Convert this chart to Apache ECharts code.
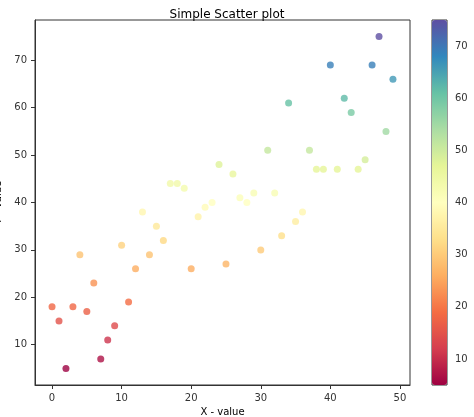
<!DOCTYPE html>
<html><head><meta charset="utf-8">
<script src="https://cdn.jsdelivr.net/npm/echarts@6/dist/echarts.min.js"></script>
<style>html,body{margin:0;padding:0;background:#fff}#c{width:474px;height:417px}</style>
</head><body><div id="c"></div>
<script>
const xValues = [0,1,2,3,4,5,6,7,8,9,10,11,12,13,14,15,16,17,18,19,20,21,22,23,24,25,26,27,28,29,30,31,32,33,34,35,36,37,38,39,40,41,42,43,44,45,46,47,48,49];
const yValues = [18,15,5,18,29,17,23,7,11,14,31,19,26,38,29,35,32,44,44,43,26,37,39,40,48,27,46,41,40,42,30,51,42,33,61,36,38,51,47,47,69,47,62,59,47,49,69,75,55,66];
const xTicks = [0,10,20,30,40,50];
const yTicks = [10,20,30,40,50,60,70];
const spectral = ['#9e0142','#d53e4f','#f46d43','#fdae61','#fee08b','#ffffbf','#e6f598','#abdda4','#66c2a5','#3288bd','#5e4fa2'];
const data = xValues.map((x,i)=>[x,yValues[i]]);
const lbl = {color:'#333',fontSize:10,fontFamily:'DejaVu Sans'};
const chart = echarts.init(document.getElementById('c'));
chart.setOption({
  animation:false,
  title:{text:'Simple Scatter plot',left:222,top:4,textAlign:'center',textStyle:{fontSize:12,fontWeight:'normal',color:'#000',fontFamily:'DejaVu Sans'}},
  grid:[{left:35,right:64,top:20,bottom:32,show:true,borderColor:'#333',borderWidth:1,outerBoundsMode:'none',containLabel:false},
        {left:432,width:15,top:20,bottom:32,show:true,borderColor:'#333',borderWidth:1,outerBoundsMode:'none',containLabel:false}],
  xAxis:[{type:'value',gridIndex:0,min:-2.45,max:51.45,name:'X - value',nameLocation:'middle',nameGap:20,nameTextStyle:{fontSize:10,color:'#000',fontFamily:'DejaVu Sans'},
          axisLine:{show:true,onZero:false,lineStyle:{color:'#333'}},splitLine:{show:false},
          axisLabel:Object.assign({customValues:xTicks},lbl),axisTick:{show:true,length:4,lineStyle:{color:'#333'},customValues:xTicks}},
         {type:'value',gridIndex:1,show:false,min:0,max:1,splitLine:{show:false}}],
  yAxis:[{type:'value',gridIndex:0,min:1.5,max:78.5,name:'Y - value',nameLocation:'middle',nameGap:22,nameTextStyle:{fontSize:10,color:'#000',fontFamily:'DejaVu Sans'},
          axisLine:{show:true,onZero:false,lineStyle:{color:'#333'}},splitLine:{show:false},
          axisLabel:Object.assign({customValues:yTicks},lbl),axisTick:{show:true,length:4,lineStyle:{color:'#333'},customValues:yTicks}},
         {type:'value',gridIndex:1,position:'right',min:5,max:75,
          axisLine:{show:false},splitLine:{show:false},
          axisLabel:Object.assign({customValues:yTicks},lbl),axisTick:{show:true,length:4,lineStyle:{color:'#333'},customValues:yTicks}}],
  visualMap:{type:'continuous',min:5,max:75,dimension:1,seriesIndex:0,inRange:{color:spectral},calculable:false,text:null,showLabel:false,
    left:432,top:20,itemWidth:15,itemHeight:365,orient:'vertical',padding:0},
  series:[{type:'scatter',xAxisIndex:0,yAxisIndex:0,symbolSize:7,data:data}]
});
</script></body></html>
